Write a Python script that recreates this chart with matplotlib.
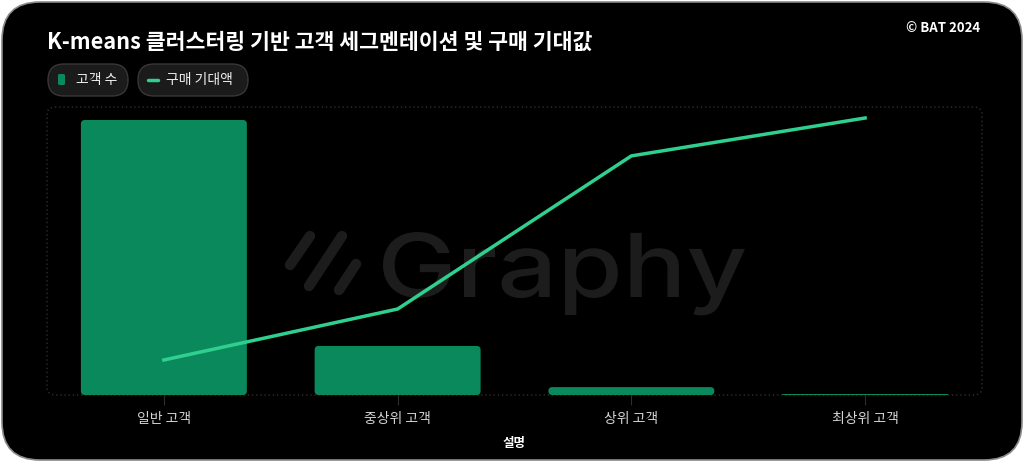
import matplotlib
matplotlib.use("Agg")
import matplotlib.pyplot as plt
from matplotlib.patches import FancyBboxPatch, PathPatch
from matplotlib.textpath import TextPath
from matplotlib.font_manager import FontProperties
from matplotlib.transforms import Affine2D
import numpy as np

plt.rcParams['font.family'] = ['Noto Sans CJK KR', 'DejaVu Sans']

# data
categories = ['일반 고객', '중상위 고객', '상위 고객', '최상위 고객']
customer_counts = [4120, 735, 118, 15]
expected_spend = [18.2, 44.7, 124.3, 144.0]

title = 'K-means 클러스터링 기반 고객 세그멘테이션 및 구매 기대값'
bar_color = '#0a8a5c'
line_color = '#2fd08f'

W, H = 1024, 462
fig = plt.figure(figsize=(W / 100, H / 100), dpi=100)
fig.patch.set_facecolor('white')

# background layer in pixel coordinates (y downwards)
bg = fig.add_axes([0, 0, 1, 1], zorder=0)
bg.set_xlim(0, W)
bg.set_ylim(H, 0)
bg.axis('off')

card = FancyBboxPatch((2, 2), W - 4, H - 4, boxstyle='round,pad=0,rounding_size=38',
                      facecolor='black', edgecolor='#8a8a8a', linewidth=1.2)
bg.add_patch(card)

# dotted plot frame
frame = FancyBboxPatch((47, 107), 935, 288, boxstyle='round,pad=0,rounding_size=8',
                       facecolor='none', edgecolor='#2e2e2e', linewidth=1.0, linestyle=(0, (1, 2)))
bg.add_patch(frame)

# watermark
wm = '#1c1c1c'
for (x0, y0, x1, y1) in [(310, 236, 290, 265), (342, 236, 309, 286), (356, 264, 339, 290)]:
    bg.plot([x0, x1], [y0, y1], color=wm, lw=7.5, solid_capstyle='round')
wm_font = FontProperties(family=['Inter', 'DejaVu Sans'], weight='medium')
tp = TextPath((0, 0), 'Graphy', size=100, prop=wm_font)
ext = tp.get_extents()
g_cap = TextPath((0, 0), 'G', size=100, prop=wm_font).get_extents()
sx = (745 - 383) / ext.width
sy = (297 - 232) / g_cap.y1
tr = Affine2D().translate(-ext.x0, 0).scale(sx, -sy).translate(383, 297)
bg.add_patch(PathPatch(tr.transform_path(tp), facecolor=wm, edgecolor='none'))

# title and credit
bg.text(47, 42, title, color='white', fontsize=15.6, fontweight='bold', ha='left', va='center')
bg.text(980, 28, '© BAT 2024', color='white', fontsize=9.5, fontweight='bold', ha='right', va='center')

# legend pills
pills = [(48, 80, '고객 수', 'bar'), (138, 110, '구매 기대액', 'line')]
for x, w, label, kind in pills:
    bg.add_patch(FancyBboxPatch((x, 64), w, 32, boxstyle='round,pad=0,rounding_size=16',
                                facecolor='#1b1b1b', edgecolor='#383838', linewidth=1.0))
    if kind == 'bar':
        bg.add_patch(FancyBboxPatch((x + 10, 74), 7, 11, boxstyle='round,pad=0,rounding_size=1.5',
                                    facecolor=bar_color, edgecolor='none'))
    else:
        bg.plot([x + 10, x + 20], [80, 80], color=line_color, lw=2.5, solid_capstyle='round')
    bg.text(x + 28, 80, label, color='#f0f0f0', fontsize=10, fontweight='medium', ha='left', va='center')

# main chart
ax = fig.add_axes([47 / W, 1 - 395 / H, 935 / W, 288 / H], zorder=1)
ax.patch.set_visible(False)
x = np.arange(len(categories))
ax.set_xlim(-0.5, len(categories) - 0.5)
ymax = max(customer_counts) * 288 / 275
ax.set_ylim(0, ymax)
bars = ax.bar(x, customer_counts, width=0.71, color=bar_color)

# swap plain rectangles for slightly rounded ones
x_per_px = (len(categories)) / 935
y_per_px = ymax / 288
for rect in bars:
    rect.set_visible(False)
    h_px = rect.get_height() / y_per_px
    r_px = min(4, h_px / 2)
    ax.add_patch(FancyBboxPatch((rect.get_x(), 0), rect.get_width(), rect.get_height(),
                                boxstyle=f'round,pad=0,rounding_size={r_px * x_per_px}',
                                mutation_aspect=y_per_px / x_per_px,
                                facecolor=bar_color, edgecolor='none'))

ax.set_xticks(x)
ax.set_xticklabels(categories, color='#d4d4d4', fontsize=10)
ax.tick_params(axis='x', length=7, color='#2e2e2e', pad=5)
ax.set_yticks([])
for s in ax.spines.values():
    s.set_visible(False)
ax.set_xlabel('설명', color='white', fontsize=9, fontweight='bold', labelpad=8)

ax2 = ax.twinx()
ax2.plot(x, expected_spend, color=line_color, lw=2.5)
ax2.set_ylim(0, max(expected_spend) * 288 / 277)
ax2.set_yticks([])
for s in ax2.spines.values():
    s.set_visible(False)

fig.savefig('out.png', dpi=100, facecolor=fig.get_facecolor())
